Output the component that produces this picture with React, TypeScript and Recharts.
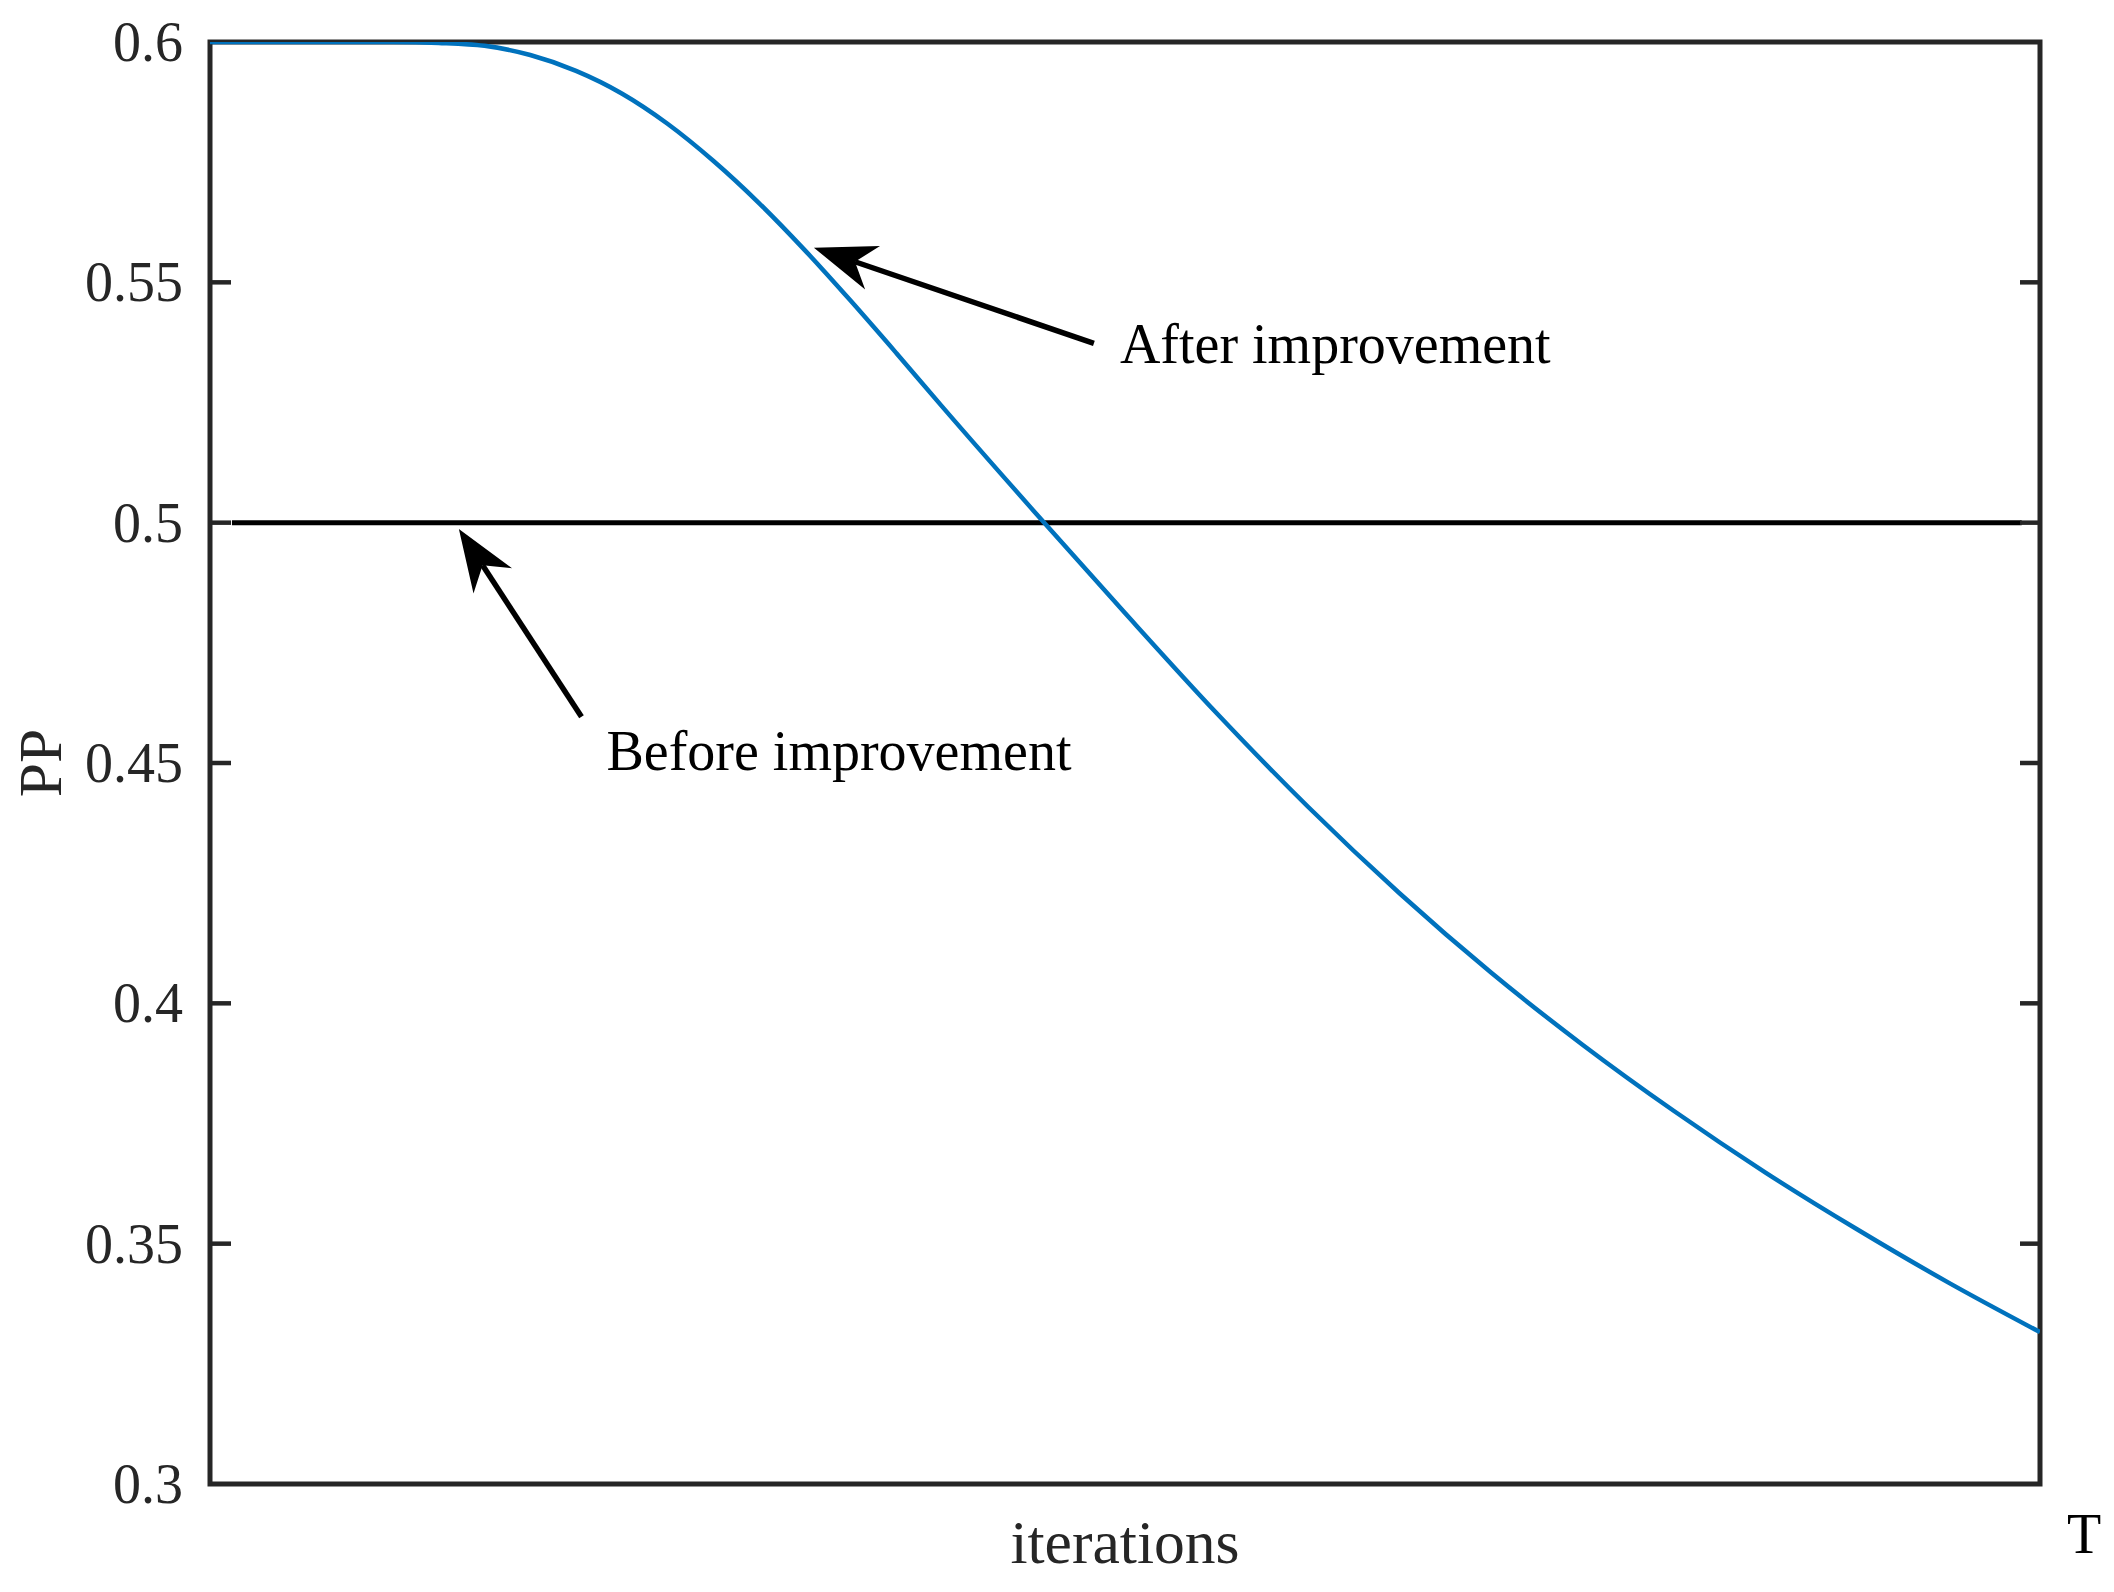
import React from 'react';
import {
  LineChart, Line, XAxis, YAxis, ReferenceArea, ReferenceLine,
} from 'recharts';

// values (x as % of T)
const iterations = [0, 5, 10, 12.5, 15, 17.5, 20, 22.5, 25, 27.5, 30, 32.5, 35, 37.5, 40, 45, 50, 55, 60, 65, 70, 75, 80, 85, 90, 95, 100];
const ppAfter = [0.6, 0.6, 0.6, 0.5998, 0.5992, 0.5973, 0.594, 0.5893, 0.583, 0.5753, 0.5665, 0.5567, 0.5462, 0.5353, 0.5242, 0.5025, 0.4812, 0.4604, 0.4409, 0.4229, 0.4064, 0.3914, 0.3776, 0.3648, 0.353, 0.3419, 0.3316];
const beforeX = [1.2, 99];
const ppBefore = [0.5, 0.5];
const yTicks = [0.3, 0.35, 0.4, 0.45, 0.5, 0.55, 0.6];
const xTicks = [100];

const afterData = iterations.map((x, i) => ({ x, pp: ppAfter[i] }));
const beforeData = beforeX.map((x, i) => ({ x, pp: ppBefore[i] }));

const FONT = "'Liberation Serif', 'Times New Roman', serif";
const AXIS = '#262626';

// inner tick marks are skipped at the domain ends, where they sit on the frame
const isEnd = (v: number) => v === 0.3 || v === 0.6;

const LeftTick = ({ x, y, payload }: any) => (
  <g>
    {!isEnd(payload.value) && (
      <line x1={x} x2={x + 21} y1={y} y2={y} stroke={AXIS} strokeWidth={4.5} />
    )}
    <text x={x - 27} y={y} textAnchor="end" dominantBaseline="central" fontSize={56} fontFamily={FONT} fill={AXIS}>
      {String(payload.value)}
    </text>
  </g>
);

const RightTick = ({ x, y, payload }: any) =>
  isEnd(payload.value) ? <g /> : (
    <line x1={x - 20} x2={x} y1={y} y2={y} stroke={AXIS} strokeWidth={4.5} />
  );

const BottomTick = ({ x, y }: any) => (
  <text x={x + 44} y={y + 69} textAnchor="middle" fontSize={56} fontFamily={FONT} fill="#000">T</text>
);

const xTitle = (props: any) => {
  const vb = props.viewBox;
  return (
    <text x={vb.x + vb.width / 2} y={vb.y + 79} textAnchor="middle" fontSize={61.6} fontFamily={FONT} fill={AXIS}>
      iterations
    </text>
  );
};

const yTitle = (props: any) => {
  const vb = props.viewBox;
  const cx = vb.x + 30;
  const cy = vb.y + vb.height / 2;
  return (
    <text x={cx} y={cy} transform={`rotate(-90, ${cx}, ${cy})`} textAnchor="middle" dominantBaseline="central" fontSize={61.6} fontFamily={FONT} fill={AXIS}>
      PP
    </text>
  );
};

// arrow from tail (x1,y1) to tip (x2,y2) with a caption next to the tail
const arrow = (caption: string, tdx: number, tdy: number) => (props: any) => {
  const { x1, y1, x2, y2 } = props;
  const dx = x2 - x1;
  const dy = y2 - y1;
  const len = Math.sqrt(dx * dx + dy * dy);
  const ux = dx / len;
  const uy = dy / len;
  const nx = -uy;
  const ny = ux;
  const L = 62;
  const W = 23;
  const bx = x2 - L * ux;
  const by = y2 - L * uy;
  const mx = x2 - 0.7 * L * ux;
  const my = y2 - 0.7 * L * uy;
  const pts = `${x2},${y2} ${bx + W * nx},${by + W * ny} ${mx},${my} ${bx - W * nx},${by - W * ny}`;
  return (
    <g>
      <line x1={x1} y1={y1} x2={mx} y2={my} stroke="#000" strokeWidth={5.5} />
      <polygon points={pts} fill="#000" />
      <text x={x1 + tdx} y={y1 + tdy} fontSize={56} fontFamily={FONT} fill="#000">{caption}</text>
    </g>
  );
};

export default function App() {
  return (
    <div style={{ position: 'absolute', left: 0, top: 0, background: '#fff' }}>
      <LineChart width={2114} height={1592} margin={{ top: 42, right: 14, bottom: 8, left: 10 }}>
        <XAxis
          dataKey="x" type="number" domain={[0, 100]} ticks={xTicks} height={100}
          axisLine={false} tickLine={false} tickSize={0} tickMargin={0}
          tick={<BottomTick />} label={xTitle} allowDataOverflow
        />
        <YAxis
          type="number" domain={[0.3, 0.6]} ticks={yTicks} width={200}
          axisLine={false} tickLine={false} tickSize={0} tickMargin={0}
          tick={<LeftTick />} label={yTitle} allowDataOverflow
        />
        <YAxis
          yAxisId="r" orientation="right" type="number" domain={[0.3, 0.6]} ticks={yTicks} width={60}
          axisLine={false} tickLine={false} tickSize={0} tickMargin={0}
          tick={<RightTick />} allowDataOverflow
        />
        <ReferenceArea x1={0} x2={100} y1={0.3} y2={0.6} fill="none" fillOpacity={0} stroke={AXIS} strokeWidth={5} strokeOpacity={1} ifOverflow="visible" />
        <Line
          yAxisId="r" data={beforeData} dataKey="pp" type="linear" stroke="#000" strokeWidth={5}
          dot={false} activeDot={false} isAnimationActive={false}
        />
        <Line
          data={afterData} dataKey="pp" type="monotone" stroke="#0072BD" strokeWidth={4.5}
          dot={false} activeDot={false} isAnimationActive={false}
        />
        <ReferenceLine
          segment={[{ x: 48.3, y: 0.5373 }, { x: 33.0, y: 0.5572 }]}
          shape={arrow('After improvement', 26, 20)} ifOverflow="visible"
        />
        <ReferenceLine
          segment={[{ x: 20.3, y: 0.4596 }, { x: 13.6, y: 0.4987 }]}
          shape={arrow('Before improvement', 25, 53)} ifOverflow="visible"
        />
      </LineChart>
    </div>
  );
}
